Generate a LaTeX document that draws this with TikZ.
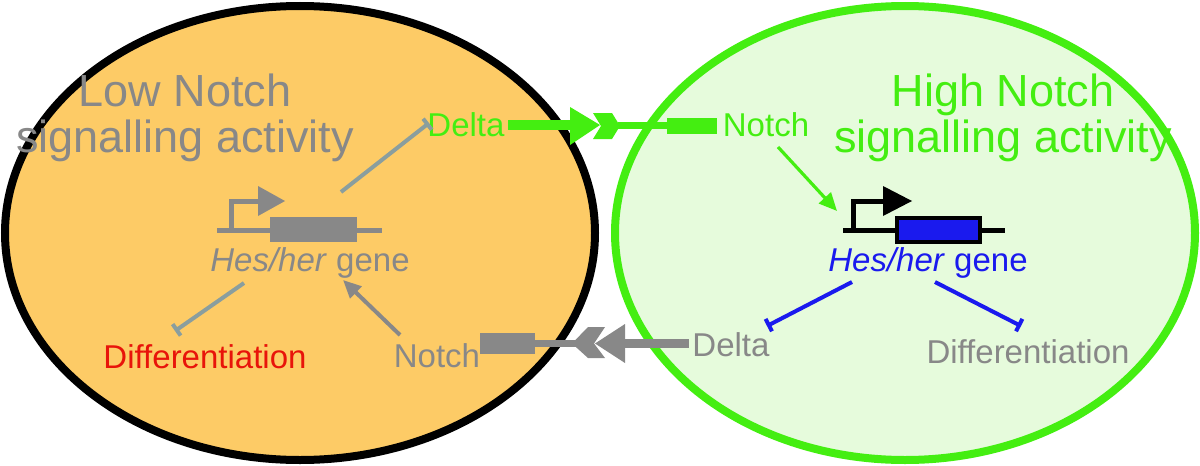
\documentclass[tikz,border=0pt]{standalone}
\usepackage{fontspec}
\setmainfont{Liberation Sans}
\usetikzlibrary{arrows.meta}
\definecolor{cellA}{HTML}{FDCB66}
\definecolor{cellB}{HTML}{E6FBDC}
\definecolor{gr}{HTML}{44EE11}
\definecolor{gy}{HTML}{888888}
\definecolor{sl}{HTML}{8A9E9E}
\definecolor{bl}{HTML}{1A1AEE}
\definecolor{rd}{HTML}{E8140A}
\begin{document}
\begin{tikzpicture}[x=0.5pt,y=-0.5pt,
  big/.style={font=\fontsize{22.5}{23}\selectfont,align=center,inner sep=0},
  lab/.style={font=\fontsize{16.5}{18}\selectfont,inner sep=0},
  inh/.style={line width=2pt,-{Bar[width=7pt]}},
  act/.style={line width=2pt,-{Triangle[width=8pt,length=9pt]}}]
\useasboundingbox (0,0) rectangle (1200,466);
\draw[line width=4pt,fill=cellA] (300,233) ellipse [x radius=295,y radius=227];
\draw[gr,line width=4pt,fill=cellB] (905,233) ellipse [x radius=290,y radius=227];
\node[big,text=gy] (lowt) at (185,118) {Low Notch\\signalling activity};
\node[big,text=gr] (hight) at (1003,118) {High Notch\\signalling activity};
% top connector
\node[lab,text=gr] (delta1) at (466,125) {Delta};
\node[lab,text=gr] (notch1) at (766,125) {Notch};
\coordinate (d1e) at (508,125);
\fill[gr] (d1e) ++(0,-5) rectangle (572,130);
\fill[gr] (570,107) -- (600,125) -- (570,145) -- cycle;
\fill[gr] (593,113) -- (612,113) -- (620,126) -- (612,139) -- (593,139) -- (601,126) -- cycle;
\fill[gr] (618,122) rectangle (668,129);
\fill[gr] (667,118) rectangle (717,134);
\draw[act,gr,line width=1.6pt] (778,147) -- (837,211);
% bottom connector
\node[lab,text=gy] (delta2) at (731,345) {Delta};
\node[lab,text=gy] (notch2) at (437,356) {Notch};
\fill[gy] (625,339) rectangle (689,348);
\fill[gy] (595,343.5) -- (625,324) -- (625,363) -- cycle;
\fill[gy] (605,327) -- (588,327) -- (572,343.5) -- (588,358) -- (605,358) -- (594,343.5) -- cycle;
\fill[gy] (533,340) rectangle (580,347);
\fill[gy] (480,333) rectangle (535,354);
\draw[act,gy] (400,335) -- (343,280);
% left gene
\draw[gy,line width=2.5pt] (217,230) -- (382,230);
\draw[gy,line width=2.5pt] (231,230) -- (231,201) -- (262,201);
\fill[gy] (258,186) -- (285,201) -- (258,216) -- cycle;
\fill[gy] (270,217) rectangle (357,242);
\node[lab,text=gy] (gene1) at (310,263) {\textit{Hes/her} gene};
\draw[inh,sl] (341,192) -- (429,123);
\draw[inh,sl] (244,283) -- (175,331);
\node[lab,text=rd] (diff1) at (205,357) {Differentiation};
% right gene
\draw[line width=2.5pt] (843,230) -- (1005,230);
\draw[line width=2.5pt] (853,230) -- (853,201) -- (886,201);
\fill (883,186) -- (912,201) -- (883,216) -- cycle;
\draw[line width=2pt,fill=bl] (897,218) rectangle (980,242);
\node[lab,text=bl] (gene2) at (928,263) {\textit{Hes/her} gene};
\draw[inh,bl] (852,282) -- (767,326);
\draw[inh,bl] (935,282) -- (1021,326);
\node[lab,text=gy] (diff2) at (1028,352) {Differentiation};
\end{tikzpicture}
\end{document}
